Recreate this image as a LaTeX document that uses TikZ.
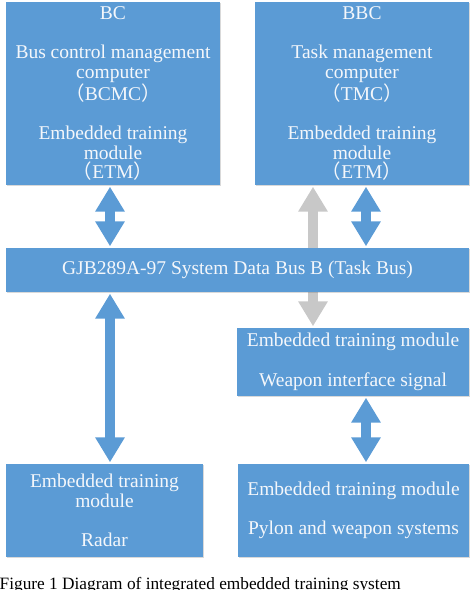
\documentclass[tikz,border=0pt]{standalone}
\usepackage{fontspec}
\setmainfont{Liberation Serif}
\newfontfamily\cjk{Noto Sans CJK SC}
\newcommand{\lp}{{\cjk （}}
\newcommand{\rp}{{\cjk ）}}
\usetikzlibrary{arrows.meta,shadows}
\definecolor{boxblue}{HTML}{5B9BD5}
\definecolor{arrgray}{HTML}{C8C8C8}
\definecolor{boxtext}{HTML}{F4F7FB}
\tikzset{
  blk/.style={fill=boxblue, draw=none, inner sep=0pt, text=boxtext, align=center,
    font=\fontsize{19.5}{19.7}\selectfont,
    drop shadow={shadow xshift=1.2pt, shadow yshift=-1.2pt, opacity=.25, fill=black!60}},
  tip/.tip={Triangle[width=28pt,length=25pt]},
  dbl/.style={draw=boxblue, line width=10pt, line cap=butt, tip-tip, shorten <=1.5pt, shorten >=1.5pt},
  gdbl/.style={dbl, draw=arrgray},
}
\begin{document}
\begin{tikzpicture}[x=1pt,y=1pt]
\useasboundingbox (0,0) rectangle (474,590);
\coordinate (xl) at (110,0);
\coordinate (xg) at (313,0);
\coordinate (xr) at (366,0);
% top boxes
\node[blk, minimum width=214pt, minimum height=183pt] (bc) at (113,496.5)
  {BC\\[19.7pt]Bus control management\\computer\\\lp BCMC\rp\\[19.7pt]Embedded training\\module\\\lp ETM\rp};
\node[blk, minimum width=214pt, minimum height=183pt] (bbc) at (362,496.5)
  {BBC\\[19.7pt]Task management\\computer\\\lp TMC\rp\\[19.7pt]Embedded training\\module\\\lp ETM\rp};
% lower boxes
\node[blk, minimum width=232pt, minimum height=68pt] (wi) at (353,228)
  {Embedded training module\\[19.7pt]Weapon interface signal};
\node[blk, minimum width=197pt, minimum height=93pt] (radar) at (104.5,79.5)
  {Embedded training\\module\\[19.7pt]Radar};
\node[blk, minimum width=231pt, minimum height=93pt] (pylon) at (353.5,79.5)
  {Embedded training module\\[19.7pt]Pylon and weapon systems};
% gray arrow behind the bus
\draw[gdbl] (bbc.south -| xg) -- (wi.north -| xg);
% bus
\node[blk, minimum width=463pt, minimum height=44pt] (bus) at (237.5,320)
  {GJB289A-97 System Data Bus B (Task Bus)};
% blue arrows
\draw[dbl] (bc.south -| xl) -- (bus.north -| xl);
\draw[dbl] (bbc.south -| xr) -- (bus.north -| xr);
\draw[dbl] (bus.south -| xl) -- (radar.north -| xl);
\draw[dbl] (wi.south -| xr) -- (pylon.north -| xr);
% caption
\node[anchor=base west, inner sep=0pt, font=\fontsize{17.3}{20}\selectfont] (cap) at (-0.5,0.5)
  {Figure 1 Diagram of integrated embedded training system};
\end{tikzpicture}
\end{document}
